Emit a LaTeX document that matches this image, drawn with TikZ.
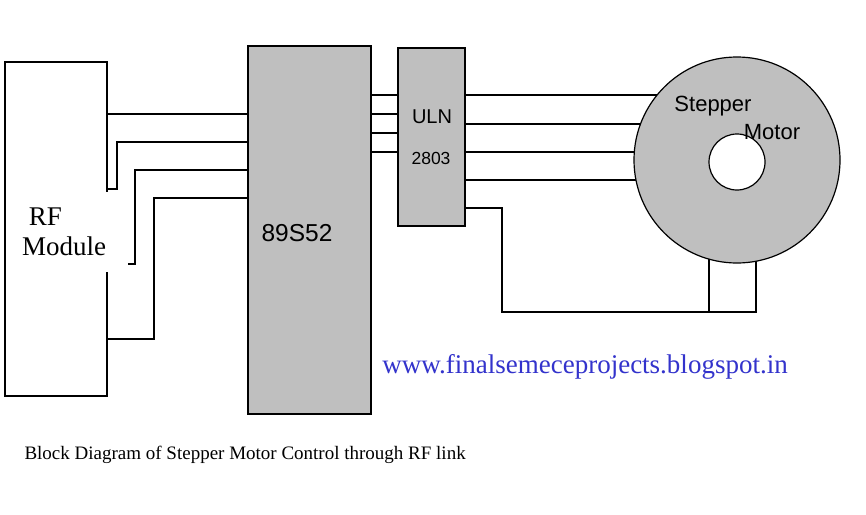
\documentclass[tikz,border=0pt]{standalone}
\usepackage{fontspec}
\setmainfont{Liberation Serif}
\newfontfamily\arialf{Liberation Sans}
\definecolor{blk}{gray}{0.75}
\definecolor{urlblue}{RGB}{51,51,204}
\begin{document}
\begin{tikzpicture}[x=1pt,y=-1pt,
  wire/.style={draw=black,line width=1.2pt},
  chip/.style={draw=black,line width=1.2pt,fill=blk}]
\useasboundingbox (0,0) rectangle (866,514);
\fill[white] (0,0) rectangle (866,514);
% RF module
\draw[wire] (5,62) rectangle (107,396);
\coordinate (rfa) at (107,114);
\coordinate (rfb) at (107,189);
\coordinate (rfc) at (128,264);
\coordinate (rfd) at (107,339);
% MCU
\draw[chip] (248,46) rectangle (371,414);
\node[font=\arialf\fontsize{24.5}{27}\selectfont] (mcu) at (297,233) {89S52};
% ULN
\draw[chip] (398,48) rectangle (465,226);
\node[font=\arialf\fontsize{20}{22}\selectfont] (uln) at (432,117) {ULN};
\node[font=\arialf\fontsize{17.5}{19}\selectfont] (uln2) at (431,158) {2803};
% RF to MCU wires
\draw[wire] (rfa) -- (248,114);
\draw[wire] (rfb) -- (117,189) -- (117,142) -- (248,142);
\draw[wire] (rfc) -- (135,264) -- (135,170) -- (248,170);
\draw[wire] (rfd) -- (154,339) -- (154,198) -- (248,198);
% MCU to ULN
\foreach \y in {95,114,133,152} \draw[wire] (371,\y) -- (398,\y);
% ULN to motor
\foreach \y in {95,124,152,180} \draw[wire] (465,\y) -- (700,\y);
\draw[wire] (465,208) -- (502,208) -- (502,312) -- (756,312) -- (756,240);
\draw[wire] (709,312) -- (709,240);
% motor
\node[circle,draw=black,line width=1.2pt,fill=blk,minimum size=206pt,inner sep=0] (motor) at (737,160) {};
\node[circle,draw=black,line width=1.2pt,fill=white,minimum size=56pt,inner sep=0] (hole) at (737,162) {};
\node[font=\arialf\fontsize{22}{24}\selectfont] (st) at (713,106) {Stepper};
\node[font=\arialf\fontsize{22}{24}\selectfont] (mo) at (772,132) {Motor};
% RF label
\node[fill=white,inner sep=0,minimum width=112pt,minimum height=80pt] (rflbl) at (70,232) {};
\node[font=\fontsize{27}{30}\selectfont,align=left] (rf) at (64,232) {\ RF\\Module};
% texts
\node[font=\fontsize{27}{30}\selectfont,text=urlblue] (url) at (585,367) {www.finalsemeceprojects.blogspot.in};
\node[font=\fontsize{19}{21}\selectfont,anchor=west] (cap) at (21,455) {Block Diagram of Stepper Motor Control through RF link};
\end{tikzpicture}
\end{document}
